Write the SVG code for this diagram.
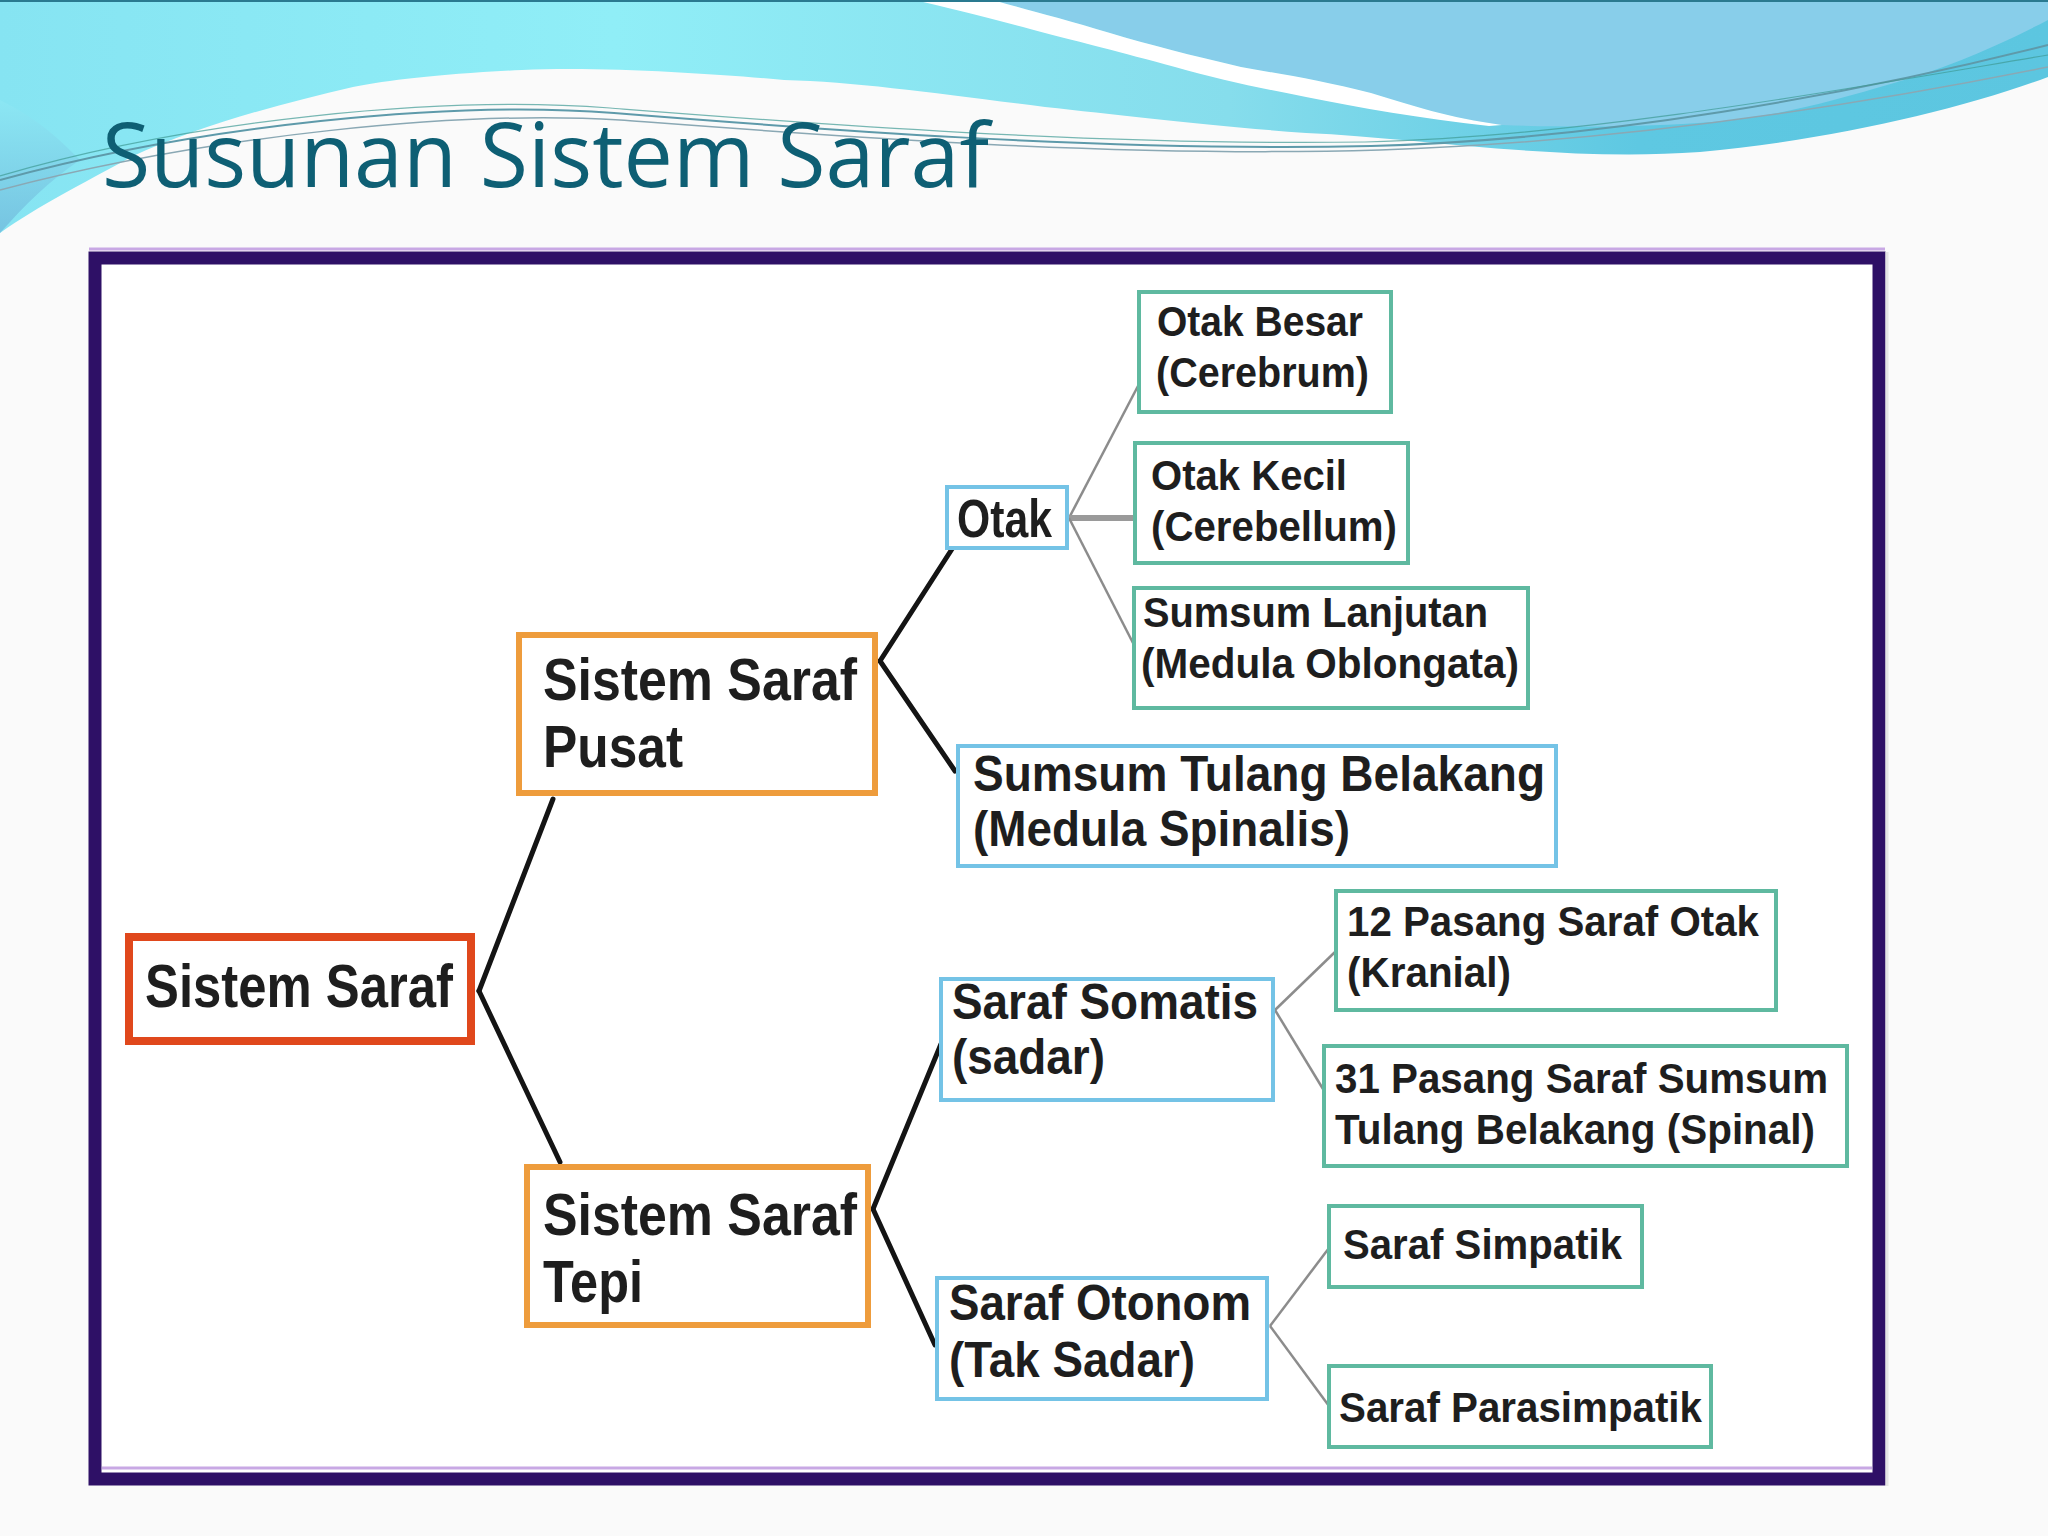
<svg xmlns="http://www.w3.org/2000/svg" width="2048" height="1536" viewBox="0 0 2048 1536">
<defs>
<linearGradient id="cyan" x1="0" y1="0" x2="1" y2="0">
<stop offset="0" stop-color="#86E4F2"/>
<stop offset="0.3" stop-color="#90EEF7"/>
<stop offset="0.6" stop-color="#86DDEC"/>
<stop offset="0.8" stop-color="#5EC8E2"/>
<stop offset="1" stop-color="#5CC6E0"/>
</linearGradient>
<linearGradient id="wedge" x1="0" y1="0" x2="0" y2="1">
<stop offset="0" stop-color="#8EE8F4"/>
<stop offset="1" stop-color="#6FB6DA"/>
</linearGradient>
<style>
.t{font-family:"Liberation Sans",Arial,sans-serif;font-weight:bold;fill:#1E1E1E}
.n{fill:#FFFFFF}
.root{stroke:#E0481C;stroke-width:8}
.lvl1{stroke:#EE9C3C;stroke-width:6}
.lvl2{stroke:#74C3E6;stroke-width:4}
.lvl3{stroke:#5FB9A0;stroke-width:4}
.main{stroke:#141414;stroke-width:5;fill:none;stroke-linecap:round}
.sub{stroke:#8C8C8C;stroke-width:2.5;fill:none}
</style>
</defs>
<rect x="0" y="0" width="2048" height="1536" fill="#FAFAFA"/>
<g id="header">
<path d="M0,0 H2048 V77 C1960,110 1830,140 1700,152 C1560,162 1420,138 1306,133 C1200,125 1120,115 1045,107 C940,94 860,82 784,80 C720,74 600,66 522,70 C440,74 390,80 353,87 C280,104 200,125 131,157 C80,185 40,205 0,233 Z" fill="url(#cyan)"/>
<path d="M0,100 C40,120 60,140 80,160 C50,180 25,205 0,233 Z" fill="url(#wedge)" opacity="0.7"/>
<path d="M993,0 H2048 V20 C1990,50 1940,70 1894,83 C1820,105 1760,120 1698,123 C1620,128 1560,127 1502,125 C1450,118 1410,105 1371,93 C1320,80 1280,74 1241,67 C1190,55 1150,45 1110,33 C1060,18 1020,8 993,0 Z" fill="#88CEEA"/>
<path d="M914,0 H993 C1020,8 1060,18 1110,33 C1150,45 1190,55 1241,67 C1280,74 1320,80 1371,93 C1410,105 1450,118 1502,125 L1489,126 C1420,118 1360,108 1306,97 C1260,88 1220,80 1175,67 C1120,52 1080,42 1045,33 C990,18 950,8 914,0 Z" fill="#FFFFFF"/>
<path d="M0,180 C200,125 450,100 614,113 C800,128 1100,152 1371,146 C1600,140 1850,95 2048,45" fill="none" stroke="#5E9AAA" stroke-width="2"/>
<path d="M0,190 C210,135 460,110 620,120 C820,135 1110,158 1380,150 C1620,142 1860,105 2048,67" fill="none" stroke="#8AA8B4" stroke-width="1.5"/>
<path d="M0,176 C190,120 440,95 610,108 C790,122 1090,146 1365,142 C1590,136 1840,90 2048,55" fill="none" stroke="#3E9A94" stroke-width="1.2" opacity="0.7"/>
<rect x="0" y="0" width="2048" height="2" fill="#2A7A90"/>
<text x="102" y="187" font-family="Open Sans,DejaVu Sans,sans-serif" font-size="90" fill="#0E5F74" textLength="887" lengthAdjust="spacingAndGlyphs">Susunan Sistem Saraf</text>
</g>
<g id="frame">
<rect x="95" y="258" width="1784" height="1221" fill="#FFFFFF" stroke="#2E1066" stroke-width="13"/>
<line x1="89" y1="249" x2="1885" y2="249" stroke="#C8A8E4" stroke-width="3"/>
<line x1="102" y1="1468" x2="1872" y2="1468" stroke="#C8A8E4" stroke-width="3"/>
<line x1="1887" y1="252" x2="1887" y2="1486" stroke="#E4E4E4" stroke-width="3"/>
</g>
<g id="connectors">
<line class="main" x1="479" y1="991" x2="553" y2="799"/>
<line class="main" x1="479" y1="991" x2="560" y2="1162"/>
<line class="main" x1="880" y1="661" x2="952" y2="549"/>
<line class="main" x1="880" y1="661" x2="955" y2="771"/>
<line class="main" x1="873" y1="1209" x2="941" y2="1044"/>
<line class="main" x1="873" y1="1209" x2="935" y2="1345"/>
<line class="sub" x1="1069" y1="518" x2="1138" y2="386"/>
<line x1="1069" y1="518" x2="1134" y2="518" stroke="#9A9A9A" stroke-width="6"/>
<line class="sub" x1="1069" y1="518" x2="1133" y2="643"/>
<line class="sub" x1="1275" y1="1010" x2="1335" y2="952"/>
<line class="sub" x1="1275" y1="1010" x2="1323" y2="1089"/>
<line class="sub" x1="1270" y1="1326" x2="1329" y2="1248"/>
<line class="sub" x1="1270" y1="1326" x2="1329" y2="1406"/>
</g>
<g id="node-sistem-saraf">
<rect class="n root" x="129" y="937" width="342" height="104"/>
<text class="t" x="145" y="1007" font-size="61" textLength="308" lengthAdjust="spacingAndGlyphs">Sistem Saraf</text>
</g>
<g id="node-pusat">
<rect class="n lvl1" x="519" y="635" width="356" height="158"/>
<text class="t" x="543" y="700" font-size="60" textLength="314" lengthAdjust="spacingAndGlyphs">Sistem Saraf</text>
<text class="t" x="543" y="767" font-size="60" textLength="140" lengthAdjust="spacingAndGlyphs">Pusat</text>
</g>
<g id="node-tepi">
<rect class="n lvl1" x="527" y="1167" width="341" height="158"/>
<text class="t" x="543" y="1235" font-size="60" textLength="314" lengthAdjust="spacingAndGlyphs">Sistem Saraf</text>
<text class="t" x="543" y="1302" font-size="60" textLength="100" lengthAdjust="spacingAndGlyphs">Tepi</text>
</g>
<g id="node-otak">
<rect class="n lvl2" x="947" y="487" width="120" height="61"/>
<text class="t" x="957" y="537" font-size="54" textLength="95" lengthAdjust="spacingAndGlyphs">Otak</text>
</g>
<g id="node-sumsum-tulang">
<rect class="n lvl2" x="958" y="746" width="598" height="120"/>
<text class="t" x="973" y="791" font-size="50" textLength="572" lengthAdjust="spacingAndGlyphs">Sumsum Tulang Belakang</text>
<text class="t" x="973" y="846" font-size="50" textLength="377" lengthAdjust="spacingAndGlyphs">(Medula Spinalis)</text>
</g>
<g id="node-otak-besar">
<rect class="n lvl3" x="1139" y="292" width="252" height="120"/>
<text class="t" x="1157" y="336" font-size="43" textLength="206" lengthAdjust="spacingAndGlyphs">Otak Besar</text>
<text class="t" x="1156" y="387" font-size="43" textLength="213" lengthAdjust="spacingAndGlyphs">(Cerebrum)</text>
</g>
<g id="node-otak-kecil">
<rect class="n lvl3" x="1135" y="443" width="273" height="120"/>
<text class="t" x="1151" y="490" font-size="43" textLength="196" lengthAdjust="spacingAndGlyphs">Otak Kecil</text>
<text class="t" x="1151" y="541" font-size="43" textLength="246" lengthAdjust="spacingAndGlyphs">(Cerebellum)</text>
</g>
<g id="node-sumsum-lanjutan">
<rect class="n lvl3" x="1134" y="588" width="394" height="120"/>
<text class="t" x="1143" y="627" font-size="43" textLength="345" lengthAdjust="spacingAndGlyphs">Sumsum Lanjutan</text>
<text class="t" x="1141" y="678" font-size="43" textLength="378" lengthAdjust="spacingAndGlyphs">(Medula Oblongata)</text>
</g>
<g id="node-somatis">
<rect class="n lvl2" x="941" y="979" width="332" height="121"/>
<text class="t" x="952" y="1019" font-size="50" textLength="306" lengthAdjust="spacingAndGlyphs">Saraf Somatis</text>
<text class="t" x="952" y="1074" font-size="50" textLength="153" lengthAdjust="spacingAndGlyphs">(sadar)</text>
</g>
<g id="node-otonom">
<rect class="n lvl2" x="937" y="1278" width="330" height="121"/>
<text class="t" x="949" y="1320" font-size="50" textLength="302" lengthAdjust="spacingAndGlyphs">Saraf Otonom</text>
<text class="t" x="949" y="1377" font-size="50" textLength="246" lengthAdjust="spacingAndGlyphs">(Tak Sadar)</text>
</g>
<g id="node-12-pasang">
<rect class="n lvl3" x="1336" y="891" width="440" height="119"/>
<text class="t" x="1347" y="936" font-size="43" textLength="412" lengthAdjust="spacingAndGlyphs">12 Pasang Saraf Otak</text>
<text class="t" x="1347" y="987" font-size="43" textLength="164" lengthAdjust="spacingAndGlyphs">(Kranial)</text>
</g>
<g id="node-31-pasang">
<rect class="n lvl3" x="1324" y="1046" width="523" height="120"/>
<text class="t" x="1335" y="1093" font-size="43" textLength="493" lengthAdjust="spacingAndGlyphs">31 Pasang Saraf Sumsum</text>
<text class="t" x="1335" y="1144" font-size="43" textLength="480" lengthAdjust="spacingAndGlyphs">Tulang Belakang (Spinal)</text>
</g>
<g id="node-simpatik">
<rect class="n lvl3" x="1329" y="1206" width="313" height="81"/>
<text class="t" x="1343" y="1259" font-size="43" textLength="279" lengthAdjust="spacingAndGlyphs">Saraf Simpatik</text>
</g>
<g id="node-parasimpatik">
<rect class="n lvl3" x="1329" y="1366" width="382" height="81"/>
<text class="t" x="1339" y="1422" font-size="43" textLength="363" lengthAdjust="spacingAndGlyphs">Saraf Parasimpatik</text>
</g>
</svg>
